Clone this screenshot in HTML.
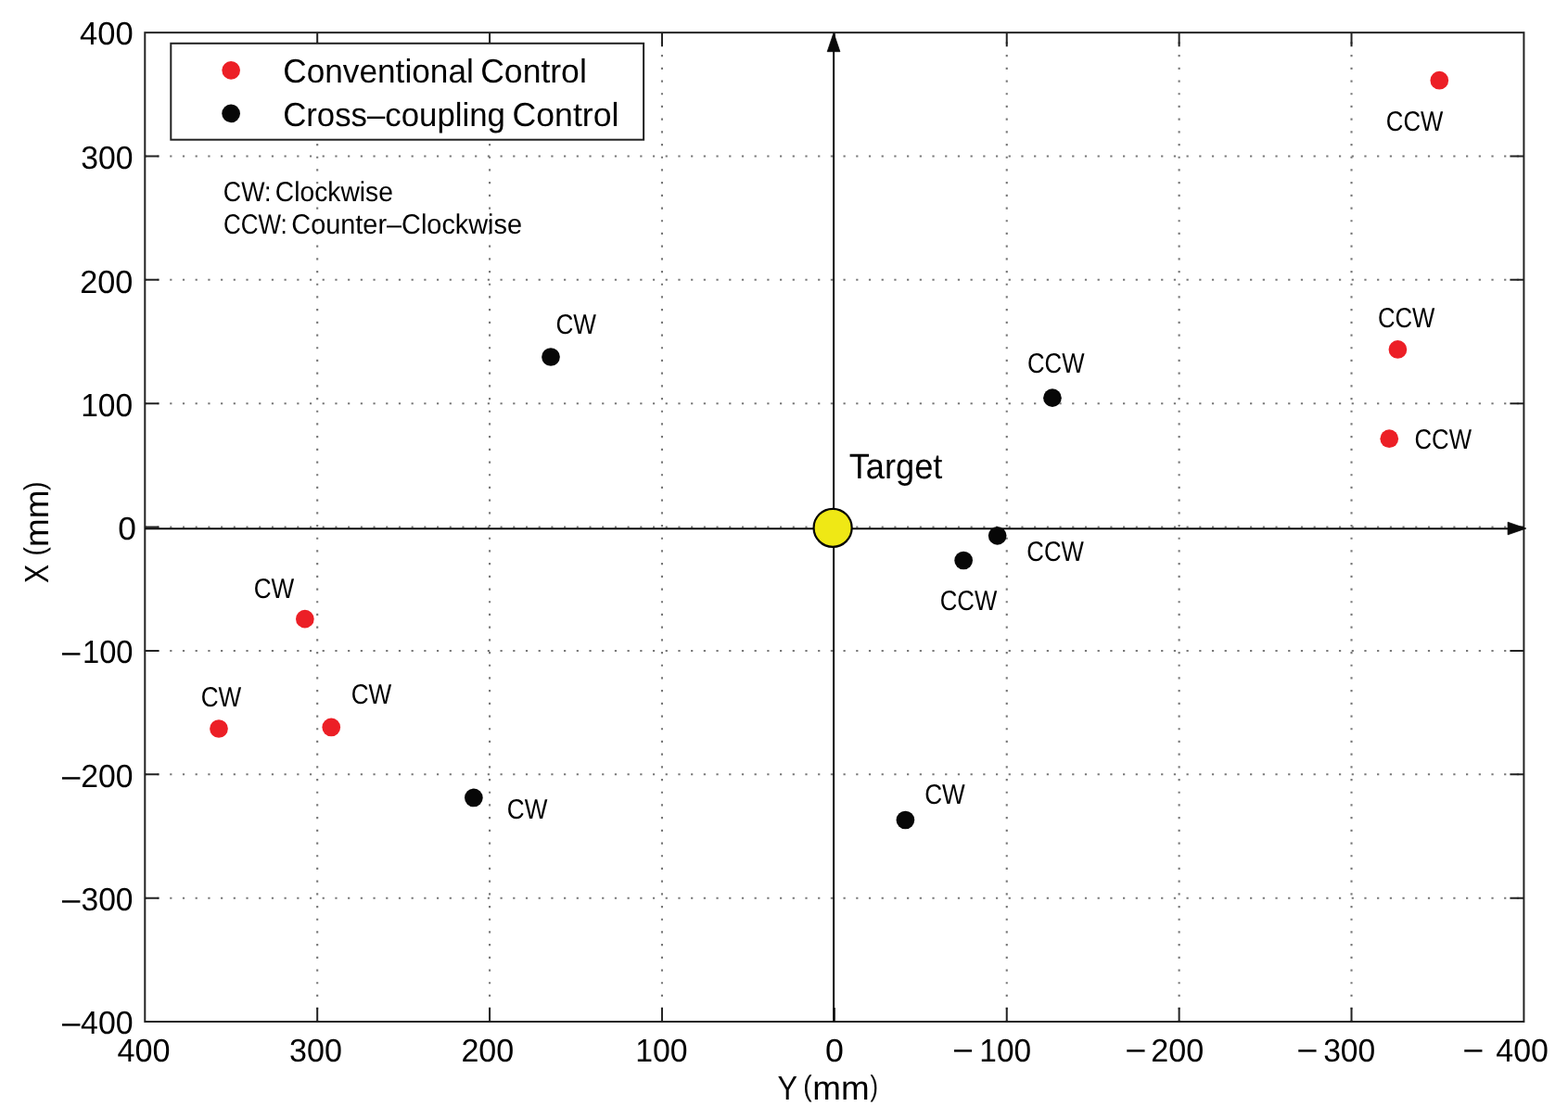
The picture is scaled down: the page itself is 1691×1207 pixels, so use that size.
<!DOCTYPE html><html><head><meta charset="utf-8"><title>Conventional vs Cross-coupling Control</title>
<style>html,body{margin:0;padding:0;background:#fff;}svg{display:block;}text{font-family:'Liberation Sans', Arial, Helvetica, sans-serif;fill:#000;text-rendering:geometricPrecision;}</style></head><body>
<svg width="1691" height="1207" viewBox="0 0 1691 1207">
<rect x="0" y="0" width="1691" height="1207" fill="#fff"/>
<path d="M155.80 968.64 H1643.40" stroke="#777" stroke-width="2.0" stroke-dasharray="2.2 11.504" fill="none"/><path d="M155.80 835.29 H1643.40" stroke="#777" stroke-width="2.0" stroke-dasharray="2.2 11.504" fill="none"/><path d="M155.80 701.93 H1643.40" stroke="#777" stroke-width="2.0" stroke-dasharray="2.2 11.504" fill="none"/><path d="M155.80 568.58 H1643.40" stroke="#777" stroke-width="2.0" stroke-dasharray="2.2 11.504" fill="none"/><path d="M155.80 435.22 H1643.40" stroke="#777" stroke-width="2.0" stroke-dasharray="2.2 11.504" fill="none"/><path d="M155.80 301.86 H1643.40" stroke="#777" stroke-width="2.0" stroke-dasharray="2.2 11.504" fill="none"/><path d="M155.80 168.51 H1643.40" stroke="#777" stroke-width="2.0" stroke-dasharray="2.2 11.504" fill="none"/><path d="M1457.51 1102.45 V35.15" stroke="#777" stroke-width="2.1" stroke-dasharray="2.2 11.5" fill="none"/><path d="M1271.62 1102.45 V35.15" stroke="#777" stroke-width="2.1" stroke-dasharray="2.2 11.5" fill="none"/><path d="M1085.74 1102.45 V35.15" stroke="#777" stroke-width="2.1" stroke-dasharray="2.2 11.5" fill="none"/><path d="M713.96 1102.45 V35.15" stroke="#777" stroke-width="2.1" stroke-dasharray="2.2 11.5" fill="none"/><path d="M528.08 1102.45 V35.15" stroke="#777" stroke-width="2.1" stroke-dasharray="2.2 11.5" fill="none"/><path d="M342.19 1102.45 V35.15" stroke="#777" stroke-width="2.1" stroke-dasharray="2.2 11.5" fill="none"/>
<path d="M1457.51 1102.00V1087.00M1457.51 35.15V50.15M156.30 968.64H171.30M1643.40 968.64H1628.40M1271.62 1102.00V1087.00M1271.62 35.15V50.15M156.30 835.29H171.30M1643.40 835.29H1628.40M1085.74 1102.00V1087.00M1085.74 35.15V50.15M156.30 701.93H171.30M1643.40 701.93H1628.40M899.85 1102.00V1087.00M899.85 35.15V50.15M156.30 568.58H171.30M1643.40 568.58H1628.40M713.96 1102.00V1087.00M713.96 35.15V50.15M156.30 435.22H171.30M1643.40 435.22H1628.40M528.08 1102.00V1087.00M528.08 35.15V50.15M156.30 301.86H171.30M1643.40 301.86H1628.40M342.19 1102.00V1087.00M342.19 35.15V50.15M156.30 168.51H171.30M1643.40 168.51H1628.40" stroke="#222" stroke-width="2" fill="none"/>
<rect x="156.30" y="35.15" width="1487.10" height="1066.85" stroke="#222" stroke-width="2" fill="none"/>
<path d="M899.1 1102.00 V50" stroke="#0a0a0a" stroke-width="2" fill="none"/>
<path d="M899.05 35.4 L892.2 55.7 L905.9 55.7 Z" fill="#0a0a0a" stroke="#0a0a0a" stroke-width="0.8" stroke-linejoin="round"/>
<path d="M156.30 570.2 H1630" stroke="#0a0a0a" stroke-width="2" fill="none"/>
<path d="M1645.8 570.0 L1626.1 563.2 L1626.1 576.8 Z" fill="#0a0a0a" stroke="#0a0a0a" stroke-width="0.8" stroke-linejoin="round"/>
<rect x="184.3" y="46.8" width="509.8" height="103.9" fill="#fff" stroke="#222" stroke-width="2"/>
<circle cx="249.15" cy="75.85" r="9.85" fill="#ec1f26"/>
<circle cx="249.1" cy="122.4" r="9.85" fill="#070707"/>
<text x="85.99" y="48.28" font-size="34.82" textLength="57.63" lengthAdjust="spacingAndGlyphs">400</text>
<text x="87.25" y="181.58" font-size="34.82" textLength="56.40" lengthAdjust="spacingAndGlyphs">300</text>
<text x="86.17" y="315.69" font-size="34.82" textLength="57.16" lengthAdjust="spacingAndGlyphs">200</text>
<text x="87.14" y="449.49" font-size="34.82" textLength="55.97" lengthAdjust="spacingAndGlyphs">100</text>
<text x="127.30" y="581.78" font-size="34.82" textLength="19.65" lengthAdjust="spacingAndGlyphs">0</text>
<text y="715.29" font-size="34.82"><tspan x="64.90" dy="2.20" textLength="23.40" lengthAdjust="spacingAndGlyphs">−</tspan><tspan x="88.99" dy="-2.20" textLength="54.57" lengthAdjust="spacingAndGlyphs">100</tspan></text>
<text y="848.68" font-size="34.82"><tspan x="64.90" dy="2.20" textLength="23.40" lengthAdjust="spacingAndGlyphs">−</tspan><tspan x="87.28" dy="-2.20" textLength="56.31" lengthAdjust="spacingAndGlyphs">200</tspan></text>
<text y="981.58" font-size="34.82"><tspan x="64.90" dy="2.20" textLength="23.40" lengthAdjust="spacingAndGlyphs">−</tspan><tspan x="87.44" dy="-2.20" textLength="56.08" lengthAdjust="spacingAndGlyphs">300</tspan></text>
<text y="1115.18" font-size="34.82"><tspan x="64.90" dy="2.20" textLength="23.40" lengthAdjust="spacingAndGlyphs">−</tspan><tspan x="87.03" dy="-2.20" textLength="56.59" lengthAdjust="spacingAndGlyphs">400</tspan></text>
<text x="126.40" y="1144.54" font-size="34.82" textLength="57.11" lengthAdjust="spacingAndGlyphs">400</text>
<text x="311.94" y="1144.54" font-size="34.82" textLength="56.92" lengthAdjust="spacingAndGlyphs">300</text>
<text x="497.39" y="1144.54" font-size="34.82" textLength="56.84" lengthAdjust="spacingAndGlyphs">200</text>
<text x="685.24" y="1144.53" font-size="34.82" textLength="56.40" lengthAdjust="spacingAndGlyphs">100</text>
<text x="889.97" y="1144.53" font-size="34.82" textLength="19.88" lengthAdjust="spacingAndGlyphs">0</text>
<text y="1144.54" font-size="34.82"><tspan x="1026.93" dy="0.65" textLength="23.04" lengthAdjust="spacingAndGlyphs">−</tspan><tspan x="1056.31" dy="-0.65" textLength="55.75" lengthAdjust="spacingAndGlyphs">100</tspan></text>
<text y="1144.54" font-size="34.82"><tspan x="1213.32" dy="0.65" textLength="23.28" lengthAdjust="spacingAndGlyphs">−</tspan><tspan x="1241.31" dy="-0.65" textLength="56.94" lengthAdjust="spacingAndGlyphs">200</tspan></text>
<text y="1144.53" font-size="34.82"><tspan x="1398.32" dy="0.65" textLength="23.28" lengthAdjust="spacingAndGlyphs">−</tspan><tspan x="1427.14" dy="-0.65" textLength="56.08" lengthAdjust="spacingAndGlyphs">300</tspan></text>
<text y="1144.54" font-size="34.82"><tspan x="1577.22" dy="0.65" textLength="23.16" lengthAdjust="spacingAndGlyphs">−</tspan><tspan x="1613.34" dy="-0.65" textLength="56.59" lengthAdjust="spacingAndGlyphs">400</tspan></text>
<text y="89.00" font-size="36.02"><tspan x="305.23" textLength="205.58" lengthAdjust="spacingAndGlyphs">Conventional</tspan> <tspan x="518.21" textLength="114.58" lengthAdjust="spacingAndGlyphs">Control</tspan></text>
<text y="135.60" font-size="36.02"><tspan x="305.14" textLength="239.77" lengthAdjust="spacingAndGlyphs">Cross–coupling</tspan> <tspan x="552.50" textLength="114.89" lengthAdjust="spacingAndGlyphs">Control</tspan></text>
<text y="217.40" font-size="29.97"><tspan x="240.87" textLength="51.59" lengthAdjust="spacingAndGlyphs">CW:</tspan> <tspan x="296.86" textLength="126.99" lengthAdjust="spacingAndGlyphs">Clockwise</tspan></text>
<text y="251.50" font-size="29.97"><tspan x="240.92" textLength="68.88" lengthAdjust="spacingAndGlyphs">CCW:</tspan> <tspan x="314.30" textLength="248.74" lengthAdjust="spacingAndGlyphs">Counter–Clockwise</tspan></text>
<text x="915.76" y="515.70" font-size="38.04" textLength="100.63" lengthAdjust="spacingAndGlyphs">Target</text>
<text y="1185.80" font-size="36.44"><tspan x="838.60" textLength="20.86" lengthAdjust="spacingAndGlyphs">Y</tspan> <tspan x="866.25" dy="-3.65" font-size="0.866em" textLength="9.39" lengthAdjust="spacingAndGlyphs">(</tspan><tspan x="876.30" dy="3.65" textLength="61.27" lengthAdjust="spacingAndGlyphs">mm</tspan><tspan x="938.42" dy="-3.65" font-size="0.866em" textLength="8.47" lengthAdjust="spacingAndGlyphs">)</tspan></text>
<text x="1494.83" y="141.17" font-size="30.02" textLength="61.45" lengthAdjust="spacingAndGlyphs">CCW</text>
<text x="1485.93" y="353.02" font-size="30.02" textLength="61.45" lengthAdjust="spacingAndGlyphs">CCW</text>
<text x="1525.48" y="483.92" font-size="30.02" textLength="61.45" lengthAdjust="spacingAndGlyphs">CCW</text>
<text x="273.65" y="645.47" font-size="30.02" textLength="43.58" lengthAdjust="spacingAndGlyphs">CW</text>
<text x="216.65" y="761.57" font-size="30.02" textLength="43.58" lengthAdjust="spacingAndGlyphs">CW</text>
<text x="378.65" y="759.32" font-size="30.02" textLength="43.58" lengthAdjust="spacingAndGlyphs">CW</text>
<text x="599.45" y="360.47" font-size="30.02" textLength="43.58" lengthAdjust="spacingAndGlyphs">CW</text>
<text x="1107.98" y="401.52" font-size="30.02" textLength="61.45" lengthAdjust="spacingAndGlyphs">CCW</text>
<text x="1107.33" y="605.37" font-size="30.02" textLength="61.45" lengthAdjust="spacingAndGlyphs">CCW</text>
<text x="1013.78" y="657.72" font-size="30.02" textLength="61.45" lengthAdjust="spacingAndGlyphs">CCW</text>
<text x="546.85" y="882.82" font-size="30.02" textLength="43.58" lengthAdjust="spacingAndGlyphs">CW</text>
<text x="997.20" y="866.82" font-size="30.02" textLength="43.58" lengthAdjust="spacingAndGlyphs">CW</text>
<text transform="translate(51.6 627.9) rotate(-90)" y="0" font-size="36.44"><tspan x="-1.00" textLength="20.24" lengthAdjust="spacingAndGlyphs">X</tspan> <tspan x="28.35" dy="-3.65" font-size="0.866em" textLength="9.39" lengthAdjust="spacingAndGlyphs">(</tspan><tspan x="37.88" dy="3.65" textLength="61.60" lengthAdjust="spacingAndGlyphs">mm</tspan><tspan x="98.97" dy="-3.65" font-size="0.866em" textLength="9.41" lengthAdjust="spacingAndGlyphs">)</tspan></text>
<circle cx="1552.30" cy="86.70" r="9.85" fill="#ec1f26"/>
<circle cx="1507.40" cy="376.95" r="9.85" fill="#ec1f26"/>
<circle cx="1498.25" cy="473.20" r="9.85" fill="#ec1f26"/>
<circle cx="328.85" cy="667.65" r="9.85" fill="#ec1f26"/>
<circle cx="236.00" cy="786.00" r="9.85" fill="#ec1f26"/>
<circle cx="357.25" cy="784.45" r="9.85" fill="#ec1f26"/>
<circle cx="594.00" cy="385.00" r="9.85" fill="#070707"/>
<circle cx="1134.95" cy="429.15" r="9.85" fill="#070707"/>
<circle cx="1075.65" cy="577.85" r="9.85" fill="#070707"/>
<circle cx="1039.15" cy="604.50" r="9.85" fill="#070707"/>
<circle cx="510.85" cy="860.45" r="9.85" fill="#070707"/>
<circle cx="976.40" cy="884.50" r="9.85" fill="#070707"/>
<circle cx="898.1" cy="569.35" r="20.55" fill="#efe815" stroke="#050505" stroke-width="2.2"/>
</svg></body></html>
